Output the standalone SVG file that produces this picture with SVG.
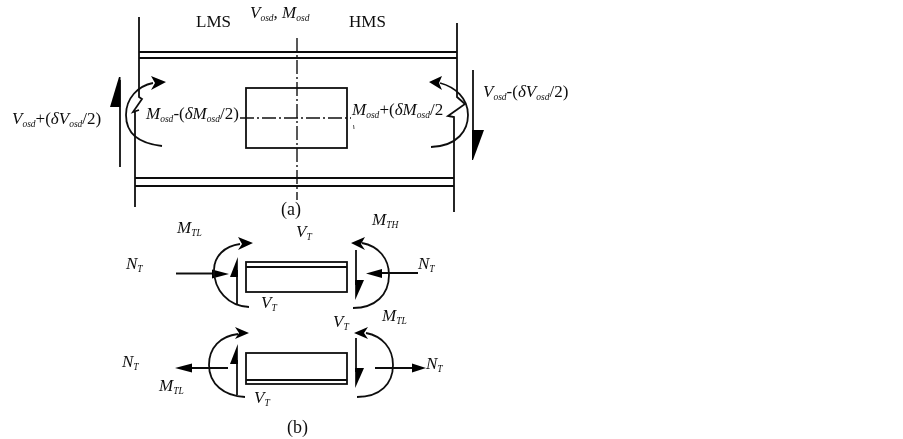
<svg xmlns="http://www.w3.org/2000/svg" width="903" height="439" viewBox="0 0 903 439">
<defs>
<filter id="soft" x="-5%" y="-5%" width="110%" height="110%"><feGaussianBlur stdDeviation="0.4"/></filter>
</defs>
<style>
.l{fill:none;stroke:#111;stroke-width:1.8}
.c{fill:none;stroke:#111;stroke-width:1.4;stroke-dasharray:14 3 2 3}
.h{fill:#000;stroke:none}
text{font-family:"Liberation Serif","Times New Roman",serif;font-size:17px;fill:#111}
.i{font-style:italic}
.s{font-size:9.500px;font-style:italic}
</style>
<rect width="903" height="439" fill="#fff"/>
<g filter="url(#soft)">
<g id="connectors">
<path class="l" d="M139 17V97L142 99L133 112L139 110M135 111V207"/>
<path class="l" d="M457 23V97L465 104L448 116L454 117V212"/>
<path class="l" d="M139 52H457M139 58H457M135 178H454M135 186H454"/>
<path class="c" d="M297 38V200"/>
<path class="c" d="M240 118H351"/>
<path class="l" d="M353.500 125L354 129" style="stroke-width:.7"/>
<path class="l" d="M120 167V80"/><path class="h" d="M119 77L110 107H120.500V77Z"/>
<path class="l" d="M473 70V155"/><path class="h" d="M473 160L484 130H472V160Z"/>
<path class="l" d="M162 146C135 143 126 130 126 115C126 98 138 86 153 83"/>
<path class="h" d="M166 82L151 76L155 83L151 90Z"/>
<path class="l" d="M431 147C458 146 468 130 468 115C468 98 455 87 440 83"/>
<path class="h" d="M429 82L442 76L439 83L442 90Z"/>
<path class="l" d="M176 273.500H218"/><path class="h" d="M229 274L212 269.500V278.500Z"/>
<path class="l" d="M237 305V270"/><path class="h" d="M237.800 257L230 277H237.800Z"/>
<path class="l" d="M249 307C228 306 214 290 214 270C214 256 225 246 240 244"/>
<path class="h" d="M253 243L238 237L242 244L238 250Z"/>
<path class="l" d="M228 368H185"/><path class="h" d="M175 368L192 363.500V372.500Z"/>
<path class="l" d="M237 395V360"/><path class="h" d="M237.800 344L230 364H237.800Z"/>
<path class="l" d="M245 397C224 396 209 384 209 365C209 348 220 336 238 334"/>
<path class="h" d="M249 333L235 327L239 333L235 339Z"/>
<path class="l" d="M356 250V285"/><path class="h" d="M355.200 300L364 280H355.200Z"/>
<path class="l" d="M353 308C375 308 389 295 389 275C389 258 378 246 362 243"/>
<path class="h" d="M351 243L365 237L361 244L365 250Z"/>
<path class="l" d="M418 273H375"/><path class="h" d="M366 273.500L382 269V278Z"/>
<path class="l" d="M356 338V372"/><path class="h" d="M355.200 388L364 368H355.200Z"/>
<path class="l" d="M357 397C380 397 393 384 393 365C393 348 382 336 366 333"/>
<path class="h" d="M354 333L368 327L364 333L368 339Z"/>
<path class="l" d="M375 368H415"/><path class="h" d="M426 368L412 363.500V372.500Z"/>
</g>
<g id="web-a"><rect class="l" x="246" y="88" width="101" height="60"/></g>
<g id="tee-top"><rect class="l" x="246" y="262" width="101" height="30"/><path class="l" d="M246 267H347"/></g>
<g id="tee-bottom"><rect class="l" x="246" y="353" width="101" height="31"/><path class="l" d="M246 380H347"/></g>
<g id="labels">
<text x="196" y="27">LMS</text>
<text x="349" y="27">HMS</text>
<text x="250" y="18" class="i">V<tspan class="s" dy="3">osd</tspan><tspan dy="-3">, M</tspan><tspan class="s" dy="3">osd</tspan></text>
<text x="12" y="124"><tspan class="i">V</tspan><tspan class="s" dy="3">osd</tspan><tspan dy="-3">+(</tspan><tspan class="i">δV</tspan><tspan class="s" dy="3">osd</tspan><tspan dy="-3">/2)</tspan></text>
<text x="146" y="119"><tspan class="i">M</tspan><tspan class="s" dy="3">osd</tspan><tspan dy="-3">-(</tspan><tspan class="i">δM</tspan><tspan class="s" dy="3">osd</tspan><tspan dy="-3">/2)</tspan></text>
<text x="352" y="115"><tspan class="i">M</tspan><tspan class="s" dy="3">osd</tspan><tspan dy="-3">+(</tspan><tspan class="i">δM</tspan><tspan class="s" dy="3">osd</tspan><tspan dy="-3">/2</tspan></text>
<text x="483" y="97"><tspan class="i">V</tspan><tspan class="s" dy="3">osd</tspan><tspan dy="-3">-(</tspan><tspan class="i">δV</tspan><tspan class="s" dy="3">osd</tspan><tspan dy="-3">/2)</tspan></text>
<text x="281" y="215" style="font-size:18px">(a)</text>
<text x="287" y="433" style="font-size:18px">(b)</text>
<text x="177" y="233" class="i">M<tspan class="s" dy="3">TL</tspan></text>
<text x="372" y="225" class="i">M<tspan class="s" dy="3">TH</tspan></text>
<text x="382" y="321" class="i">M<tspan class="s" dy="3">TL</tspan></text>
<text x="159" y="391" class="i">M<tspan class="s" dy="3">TL</tspan></text>
<text x="126" y="269" class="i">N<tspan class="s" dy="3">T</tspan></text>
<text x="418" y="269" class="i">N<tspan class="s" dy="3">T</tspan></text>
<text x="122" y="367" class="i">N<tspan class="s" dy="3">T</tspan></text>
<text x="426" y="369" class="i">N<tspan class="s" dy="3">T</tspan></text>
<text x="296" y="237" class="i">V<tspan class="s" dy="3">T</tspan></text>
<text x="261" y="308" class="i">V<tspan class="s" dy="3">T</tspan></text>
<text x="333" y="327" class="i">V<tspan class="s" dy="3">T</tspan></text>
<text x="254" y="403" class="i">V<tspan class="s" dy="3">T</tspan></text>
</g>
</g>
</svg>
